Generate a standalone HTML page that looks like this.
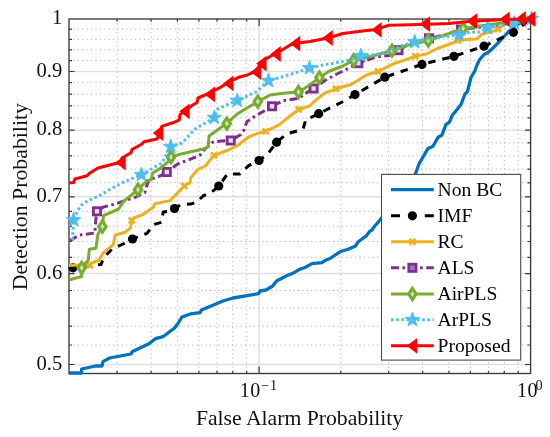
<!DOCTYPE html>
<html><head><meta charset="utf-8"><title>ROC</title><style>html,body{margin:0;padding:0;background:#fff}body{width:550px;height:437px;overflow:hidden}</style></head><body>
<svg width="550" height="437" viewBox="0 0 550 437" style="display:block;font-family:'Liberation Serif',serif">
<rect width="550" height="437" fill="#fff"/>
<g stroke="#b4b4b4" stroke-width="1" stroke-dasharray="1.2 3.2" fill="none"><line x1="117.1" y1="19.0" x2="117.1" y2="373.5"/><line x1="151.1" y1="19.0" x2="151.1" y2="373.5"/><line x1="177.4" y1="19.0" x2="177.4" y2="373.5"/><line x1="198.9" y1="19.0" x2="198.9" y2="373.5"/><line x1="217.0" y1="19.0" x2="217.0" y2="373.5"/><line x1="232.8" y1="19.0" x2="232.8" y2="373.5"/><line x1="246.7" y1="19.0" x2="246.7" y2="373.5"/><line x1="340.8" y1="19.0" x2="340.8" y2="373.5"/><line x1="388.6" y1="19.0" x2="388.6" y2="373.5"/><line x1="422.6" y1="19.0" x2="422.6" y2="373.5"/><line x1="448.9" y1="19.0" x2="448.9" y2="373.5"/><line x1="470.4" y1="19.0" x2="470.4" y2="373.5"/><line x1="488.5" y1="19.0" x2="488.5" y2="373.5"/><line x1="504.3" y1="19.0" x2="504.3" y2="373.5"/><line x1="518.2" y1="19.0" x2="518.2" y2="373.5"/><line x1="69.0" y1="345.0" x2="530.6" y2="345.0"/><line x1="69.0" y1="326.2" x2="530.6" y2="326.2"/><line x1="69.0" y1="308.0" x2="530.6" y2="308.0"/><line x1="69.0" y1="290.5" x2="530.6" y2="290.5"/><line x1="69.0" y1="257.3" x2="530.6" y2="257.3"/><line x1="69.0" y1="241.5" x2="530.6" y2="241.5"/><line x1="69.0" y1="226.1" x2="530.6" y2="226.1"/><line x1="69.0" y1="211.3" x2="530.6" y2="211.3"/><line x1="69.0" y1="182.8" x2="530.6" y2="182.8"/><line x1="69.0" y1="169.1" x2="530.6" y2="169.1"/><line x1="69.0" y1="155.8" x2="530.6" y2="155.8"/><line x1="69.0" y1="142.9" x2="530.6" y2="142.9"/><line x1="69.0" y1="117.9" x2="530.6" y2="117.9"/><line x1="69.0" y1="105.9" x2="530.6" y2="105.9"/><line x1="69.0" y1="94.2" x2="530.6" y2="94.2"/><line x1="69.0" y1="82.7" x2="530.6" y2="82.7"/><line x1="69.0" y1="60.6" x2="530.6" y2="60.6"/><line x1="69.0" y1="49.8" x2="530.6" y2="49.8"/><line x1="69.0" y1="39.3" x2="530.6" y2="39.3"/><line x1="69.0" y1="29.1" x2="530.6" y2="29.1"/></g>
<g stroke="#e0e0e0" stroke-width="1.5" fill="none"><line x1="259.1" y1="19.0" x2="259.1" y2="373.5"/><line x1="69.0" y1="364.5" x2="530.6" y2="364.5"/><line x1="69.0" y1="273.6" x2="530.6" y2="273.6"/><line x1="69.0" y1="196.8" x2="530.6" y2="196.8"/><line x1="69.0" y1="130.2" x2="530.6" y2="130.2"/><line x1="69.0" y1="71.5" x2="530.6" y2="71.5"/></g>
<g stroke="#3a3a3a" stroke-width="1.2" fill="none"><path d="M117.1 373.5v-2.8M117.1 19.0v2.8"/><path d="M151.1 373.5v-2.8M151.1 19.0v2.8"/><path d="M177.4 373.5v-2.8M177.4 19.0v2.8"/><path d="M198.9 373.5v-2.8M198.9 19.0v2.8"/><path d="M217.0 373.5v-2.8M217.0 19.0v2.8"/><path d="M232.8 373.5v-2.8M232.8 19.0v2.8"/><path d="M246.7 373.5v-2.8M246.7 19.0v2.8"/><path d="M340.8 373.5v-2.8M340.8 19.0v2.8"/><path d="M388.6 373.5v-2.8M388.6 19.0v2.8"/><path d="M422.6 373.5v-2.8M422.6 19.0v2.8"/><path d="M448.9 373.5v-2.8M448.9 19.0v2.8"/><path d="M470.4 373.5v-2.8M470.4 19.0v2.8"/><path d="M488.5 373.5v-2.8M488.5 19.0v2.8"/><path d="M504.3 373.5v-2.8M504.3 19.0v2.8"/><path d="M518.2 373.5v-2.8M518.2 19.0v2.8"/><path d="M259.1 373.5v-7M259.1 19.0v7"/><path d="M69.0 345.0h3M530.6 345.0h-3"/><path d="M69.0 326.2h3M530.6 326.2h-3"/><path d="M69.0 308.0h3M530.6 308.0h-3"/><path d="M69.0 290.5h3M530.6 290.5h-3"/><path d="M69.0 257.3h3M530.6 257.3h-3"/><path d="M69.0 241.5h3M530.6 241.5h-3"/><path d="M69.0 226.1h3M530.6 226.1h-3"/><path d="M69.0 211.3h3M530.6 211.3h-3"/><path d="M69.0 182.8h3M530.6 182.8h-3"/><path d="M69.0 169.1h3M530.6 169.1h-3"/><path d="M69.0 155.8h3M530.6 155.8h-3"/><path d="M69.0 142.9h3M530.6 142.9h-3"/><path d="M69.0 117.9h3M530.6 117.9h-3"/><path d="M69.0 105.9h3M530.6 105.9h-3"/><path d="M69.0 94.2h3M530.6 94.2h-3"/><path d="M69.0 82.7h3M530.6 82.7h-3"/><path d="M69.0 60.6h3M530.6 60.6h-3"/><path d="M69.0 49.8h3M530.6 49.8h-3"/><path d="M69.0 39.3h3M530.6 39.3h-3"/><path d="M69.0 29.1h3M530.6 29.1h-3"/><path d="M69.0 364.5h5.5M530.6 364.5h-5.5"/><path d="M69.0 273.6h5.5M530.6 273.6h-5.5"/><path d="M69.0 196.8h5.5M530.6 196.8h-5.5"/><path d="M69.0 130.2h5.5M530.6 130.2h-5.5"/><path d="M69.0 71.5h5.5M530.6 71.5h-5.5"/></g>
<rect x="69.0" y="19.0" width="461.6" height="354.5" fill="none" stroke="#3a3a3a" stroke-width="1.35"/>
<polyline points="69.0,373.0 81.6,373.0 81.6,369.0 95.6,366.0 102.0,366.0 103.0,361.6 109.6,358.0 131.0,354.0 132.5,351.4 149.0,343.8 155.4,338.7 163.0,336.7 174.5,328.0 178.0,323.4 182.0,317.0 191.0,313.8 200.0,312.7 201.5,310.0 223.0,301.0 233.0,298.0 258.7,293.6 260.0,291.0 266.0,290.0 272.7,286.0 276.5,281.0 286.7,275.8 294.0,272.7 299.4,269.4 304.5,267.7 312.0,263.6 322.0,262.6 325.0,260.5 330.0,258.5 340.0,251.8 348.0,249.2 355.6,246.0 358.0,242.0 362.0,239.0 366.0,236.2 369.6,231.4 372.0,230.0 374.7,226.0 377.0,223.5 381.0,218.7 386.0,213.0 388.0,208.0 394.0,203.0 397.0,196.0 404.0,190.0 407.0,183.0 411.0,180.0 415.3,174.3 419.0,164.0 428.0,148.4 433.0,146.3 438.0,137.4 442.0,135.0 445.8,124.7 449.6,122.0 452.0,115.8 461.0,104.4 465.0,94.0 467.4,91.6 471.0,77.5 474.8,71.0 477.0,65.0 479.4,60.0 484.0,54.5 488.0,52.5 493.0,48.0 498.6,42.5 507.8,32.5 513.3,27.0 522.4,21.5 530.6,18.5" fill="none" stroke="#0072BD" stroke-width="3.3" stroke-linejoin="round"/>
<polyline points="69.0,267.0 88.0,265.6 101.0,264.6 103.5,258.0 112.0,249.0 123.0,244.0 132.5,239.0 147.0,233.4 153.6,224.6 161.5,222.3 163.2,212.0 169.0,211.2 174.5,208.6 181.0,204.8 192.0,203.7 197.5,201.5 203.0,196.0 210.7,192.7 219.0,186.0 225.0,177.4 227.2,174.2 240.0,174.0 248.7,165.6 259.0,160.5 267.8,154.0 276.5,142.2 287.0,133.8 303.0,129.2 306.0,119.0 312.0,117.0 318.7,113.7 325.0,110.5 345.0,100.6 355.0,94.6 384.8,77.2 422.0,64.4 454.0,56.3 484.0,46.2 513.4,32.3 530.6,19.0" fill="none" stroke="#000" stroke-width="3" stroke-linejoin="round" stroke-dasharray="7.5 7"/>
<circle cx="73.0" cy="267.8" r="4.6" fill="#000"/>
<circle cx="132.5" cy="239.0" r="4.6" fill="#000"/>
<circle cx="174.5" cy="208.6" r="4.6" fill="#000"/>
<circle cx="218.8" cy="186.0" r="4.6" fill="#000"/>
<circle cx="259.0" cy="160.5" r="4.6" fill="#000"/>
<circle cx="276.6" cy="142.2" r="4.6" fill="#000"/>
<circle cx="318.7" cy="113.7" r="4.6" fill="#000"/>
<circle cx="355.0" cy="94.6" r="4.6" fill="#000"/>
<circle cx="384.8" cy="77.2" r="4.6" fill="#000"/>
<circle cx="422.0" cy="64.4" r="4.6" fill="#000"/>
<circle cx="454.0" cy="56.3" r="4.6" fill="#000"/>
<circle cx="484.0" cy="46.2" r="4.6" fill="#000"/>
<circle cx="513.4" cy="32.3" r="4.6" fill="#000"/>
<polyline points="69.0,265.6 88.3,264.5 99.0,260.0 103.5,252.6 113.0,245.0 115.4,235.0 125.0,232.3 130.5,228.0 131.6,220.2 133.8,218.0 142.6,214.7 153.6,207.0 154.7,203.7 170.0,200.6 178.8,191.6 184.3,186.0 189.8,182.9 191.0,177.4 197.5,169.7 205.4,166.0 208.5,162.0 214.0,155.4 228.3,150.0 237.0,146.0 248.2,137.2 257.0,133.6 265.8,131.4 279.0,124.8 290.0,116.0 298.7,109.5 309.7,106.0 316.3,99.6 325.0,93.0 336.0,88.8 351.0,84.5 358.0,80.3 367.0,74.8 378.0,71.5 393.4,63.8 406.5,59.5 415.3,56.2 426.3,54.0 437.3,48.5 452.7,43.0 458.0,40.4 463.8,39.8 476.6,38.9 482.0,34.3 495.0,30.6 504.0,25.0 515.0,22.0 530.6,19.0" fill="none" stroke="#EDB120" stroke-width="3.0" stroke-linejoin="round"/>
<path d="M87.0 262.2L93.0 268.2M87.0 268.2L93.0 262.2" stroke="#EDB120" stroke-width="2.7" fill="none"/>
<path d="M128.8 217.5L134.8 223.5M128.8 223.5L134.8 217.5" stroke="#EDB120" stroke-width="2.7" fill="none"/>
<path d="M181.3 183.0L187.3 189.0M181.3 189.0L187.3 183.0" stroke="#EDB120" stroke-width="2.7" fill="none"/>
<path d="M211.0 152.4L217.0 158.4M211.0 158.4L217.0 152.4" stroke="#EDB120" stroke-width="2.7" fill="none"/>
<path d="M262.8 128.4L268.8 134.4M262.8 134.4L268.8 128.4" stroke="#EDB120" stroke-width="2.7" fill="none"/>
<path d="M295.7 106.5L301.7 112.5M295.7 112.5L301.7 106.5" stroke="#EDB120" stroke-width="2.7" fill="none"/>
<path d="M333.0 85.8L339.0 91.8M333.0 91.8L339.0 85.8" stroke="#EDB120" stroke-width="2.7" fill="none"/>
<path d="M375.0 68.5L381.0 74.5M375.0 74.5L381.0 68.5" stroke="#EDB120" stroke-width="2.7" fill="none"/>
<path d="M412.3 53.2L418.3 59.2M412.3 59.2L418.3 53.2" stroke="#EDB120" stroke-width="2.7" fill="none"/>
<path d="M455.0 37.4L461.0 43.4M455.0 43.4L461.0 37.4" stroke="#EDB120" stroke-width="2.7" fill="none"/>
<path d="M495.0 26.0L501.0 32.0M495.0 32.0L501.0 26.0" stroke="#EDB120" stroke-width="2.7" fill="none"/>
<polyline points="69.8,240.6 79.6,235.0 94.8,233.0 95.9,219.0 97.0,211.3 103.5,207.0 116.5,203.7 125.0,200.4 133.8,198.0 144.8,192.7 147.0,185.0 149.0,179.8 160.0,176.0 166.8,172.0 177.7,164.0 188.7,159.8 199.7,155.4 204.0,150.0 213.0,142.0 221.7,141.0 230.7,140.5 241.0,134.5 243.8,130.3 247.0,121.5 257.0,115.0 272.0,106.3 283.4,100.7 298.7,98.3 307.5,92.0 313.6,88.5 325.0,80.5 336.0,74.5 351.0,67.0 358.3,63.2 376.0,57.0 389.0,55.4 398.5,50.2 409.0,44.0 429.0,38.3 445.0,35.0 461.0,29.5 490.0,26.0 530.6,19.0" fill="none" stroke="#7E2F8E" stroke-width="3.0" stroke-linejoin="round" stroke-dasharray="8 3.5 2.6 3.5"/>
<rect x="93.4" y="207.7" width="7.2" height="7.2" fill="#e9dcec" stroke="#7E2F8E" stroke-width="2.8"/>
<rect x="163.2" y="168.4" width="7.2" height="7.2" fill="#e9dcec" stroke="#7E2F8E" stroke-width="2.8"/>
<rect x="227.1" y="136.9" width="7.2" height="7.2" fill="#e9dcec" stroke="#7E2F8E" stroke-width="2.8"/>
<rect x="268.4" y="102.7" width="7.2" height="7.2" fill="#e9dcec" stroke="#7E2F8E" stroke-width="2.8"/>
<rect x="310.0" y="84.9" width="7.2" height="7.2" fill="#e9dcec" stroke="#7E2F8E" stroke-width="2.8"/>
<rect x="354.7" y="59.6" width="7.2" height="7.2" fill="#e9dcec" stroke="#7E2F8E" stroke-width="2.8"/>
<rect x="394.9" y="46.6" width="7.2" height="7.2" fill="#e9dcec" stroke="#7E2F8E" stroke-width="2.8"/>
<rect x="425.4" y="34.7" width="7.2" height="7.2" fill="#e9dcec" stroke="#7E2F8E" stroke-width="2.8"/>
<rect x="457.4" y="25.9" width="7.2" height="7.2" fill="#e9dcec" stroke="#7E2F8E" stroke-width="2.8"/>
<polyline points="69.8,279.8 77.4,277.6 81.7,276.5 81.7,267.8 88.3,260.0 89.3,249.3 95.9,248.3 98.0,234.0 102.4,226.5 103.5,215.6 118.7,209.0 123.6,201.4 138.0,189.7 147.0,180.7 151.4,179.6 152.5,173.0 160.0,168.6 169.0,161.0 171.0,157.0 180.0,154.3 204.0,148.8 208.3,146.6 209.0,136.0 226.5,123.5 236.5,114.6 245.3,109.0 257.8,101.6 270.0,95.0 285.5,93.0 298.5,92.0 307.5,86.4 319.4,77.6 329.5,71.0 343.0,66.0 353.6,60.3 368.7,57.0 392.0,50.7 407.0,45.6 428.3,40.5 440.0,36.7 463.2,28.4 490.0,24.6 500.0,23.3 530.6,19.0" fill="none" stroke="#77AC30" stroke-width="3.0" stroke-linejoin="round"/>
<path d="M81.7 261.2L86.1 267.8L81.7 274.4L77.3 267.8Z" fill="#77AC30" stroke="#77AC30" stroke-width="2"/><path d="M81.7 264.8L83.6 267.8L81.7 270.8L79.8 267.8Z" fill="#cfe3b2"/>
<path d="M102.4 219.9L106.8 226.5L102.4 233.1L98.0 226.5Z" fill="#77AC30" stroke="#77AC30" stroke-width="2"/><path d="M102.4 223.5L104.3 226.5L102.4 229.5L100.5 226.5Z" fill="#cfe3b2"/>
<path d="M138.0 183.1L142.4 189.7L138.0 196.3L133.6 189.7Z" fill="#77AC30" stroke="#77AC30" stroke-width="2"/><path d="M138.0 186.7L139.9 189.7L138.0 192.7L136.1 189.7Z" fill="#cfe3b2"/>
<path d="M171.0 150.4L175.4 157.0L171.0 163.6L166.6 157.0Z" fill="#77AC30" stroke="#77AC30" stroke-width="2"/><path d="M171.0 154.0L172.9 157.0L171.0 160.0L169.1 157.0Z" fill="#cfe3b2"/>
<path d="M226.8 117.0L231.2 123.6L226.8 130.2L222.4 123.6Z" fill="#77AC30" stroke="#77AC30" stroke-width="2"/><path d="M226.8 120.6L228.7 123.6L226.8 126.6L224.9 123.6Z" fill="#cfe3b2"/>
<path d="M257.8 95.0L262.2 101.6L257.8 108.2L253.4 101.6Z" fill="#77AC30" stroke="#77AC30" stroke-width="2"/><path d="M257.8 98.6L259.7 101.6L257.8 104.6L255.9 101.6Z" fill="#cfe3b2"/>
<path d="M298.5 85.4L302.9 92.0L298.5 98.6L294.1 92.0Z" fill="#77AC30" stroke="#77AC30" stroke-width="2"/><path d="M298.5 89.0L300.4 92.0L298.5 95.0L296.6 92.0Z" fill="#cfe3b2"/>
<path d="M319.4 71.0L323.8 77.6L319.4 84.2L315.0 77.6Z" fill="#77AC30" stroke="#77AC30" stroke-width="2"/><path d="M319.4 74.6L321.3 77.6L319.4 80.6L317.5 77.6Z" fill="#cfe3b2"/>
<path d="M353.6 53.7L358.0 60.3L353.6 66.9L349.2 60.3Z" fill="#77AC30" stroke="#77AC30" stroke-width="2"/><path d="M353.6 57.3L355.5 60.3L353.6 63.3L351.7 60.3Z" fill="#cfe3b2"/>
<path d="M392.0 44.1L396.4 50.7L392.0 57.3L387.6 50.7Z" fill="#77AC30" stroke="#77AC30" stroke-width="2"/><path d="M392.0 47.7L393.9 50.7L392.0 53.7L390.1 50.7Z" fill="#cfe3b2"/>
<path d="M428.3 33.9L432.7 40.5L428.3 47.1L423.9 40.5Z" fill="#77AC30" stroke="#77AC30" stroke-width="2"/><path d="M428.3 37.5L430.2 40.5L428.3 43.5L426.4 40.5Z" fill="#cfe3b2"/>
<path d="M463.2 21.8L467.6 28.4L463.2 35.0L458.8 28.4Z" fill="#77AC30" stroke="#77AC30" stroke-width="2"/><path d="M463.2 25.4L465.1 28.4L463.2 31.4L461.3 28.4Z" fill="#cfe3b2"/>
<polyline points="72.5,240.0 73.5,220.0 77.4,211.0 81.7,204.8 88.3,200.4 99.0,196.0 111.0,188.7 126.0,181.0 141.4,174.7 161.8,163.0 170.7,146.7 182.0,143.0 195.0,129.0 214.3,117.7 218.0,108.7 237.2,100.5 256.0,92.0 268.5,80.8 292.0,74.0 309.3,68.0 325.0,64.7 340.7,62.0 351.0,59.6 361.0,55.8 376.0,54.5 391.6,50.7 401.8,45.6 414.7,42.0 427.0,39.0 440.0,36.7 459.2,35.2 467.5,32.5 479.4,32.0 487.6,27.9 500.4,26.0 514.2,23.3 531.6,18.6" fill="none" stroke="#4DBEEE" stroke-width="3" stroke-linejoin="round" stroke-dasharray="2.6 2.6"/>
<polygon points="73.5,212.4 75.3,217.5 80.7,217.7 76.4,221.0 78.0,226.1 73.5,223.1 69.0,226.1 70.6,221.0 66.3,217.7 71.7,217.5" fill="#4DBEEE" stroke="#4DBEEE" stroke-width="1"/>
<polygon points="141.4,167.1 143.2,172.2 148.6,172.4 144.3,175.7 145.9,180.8 141.4,177.8 136.9,180.8 138.5,175.7 134.2,172.4 139.6,172.2" fill="#4DBEEE" stroke="#4DBEEE" stroke-width="1"/>
<polygon points="170.7,139.1 172.5,144.2 177.9,144.4 173.6,147.7 175.2,152.8 170.7,149.8 166.2,152.8 167.8,147.7 163.5,144.4 168.9,144.2" fill="#4DBEEE" stroke="#4DBEEE" stroke-width="1"/>
<polygon points="214.3,110.1 216.1,115.2 221.5,115.4 217.2,118.7 218.8,123.8 214.3,120.8 209.8,123.8 211.4,118.7 207.1,115.4 212.5,115.2" fill="#4DBEEE" stroke="#4DBEEE" stroke-width="1"/>
<polygon points="237.2,92.9 239.0,98.0 244.4,98.2 240.1,101.5 241.7,106.6 237.2,103.6 232.7,106.6 234.3,101.5 230.0,98.2 235.4,98.0" fill="#4DBEEE" stroke="#4DBEEE" stroke-width="1"/>
<polygon points="268.5,73.2 270.3,78.3 275.7,78.5 271.4,81.8 273.0,86.9 268.5,83.9 264.0,86.9 265.6,81.8 261.3,78.5 266.7,78.3" fill="#4DBEEE" stroke="#4DBEEE" stroke-width="1"/>
<polygon points="309.5,60.4 311.3,65.5 316.7,65.7 312.4,69.0 314.0,74.1 309.5,71.1 305.0,74.1 306.6,69.0 302.3,65.7 307.7,65.5" fill="#4DBEEE" stroke="#4DBEEE" stroke-width="1"/>
<polygon points="361.0,48.2 362.8,53.3 368.2,53.5 363.9,56.8 365.5,61.9 361.0,58.9 356.5,61.9 358.1,56.8 353.8,53.5 359.2,53.3" fill="#4DBEEE" stroke="#4DBEEE" stroke-width="1"/>
<polygon points="414.7,34.4 416.5,39.5 421.9,39.7 417.6,43.0 419.2,48.1 414.7,45.1 410.2,48.1 411.8,43.0 407.5,39.7 412.9,39.5" fill="#4DBEEE" stroke="#4DBEEE" stroke-width="1"/>
<polygon points="459.2,27.6 461.0,32.7 466.4,32.9 462.1,36.2 463.7,41.3 459.2,38.3 454.7,41.3 456.3,36.2 452.0,32.9 457.4,32.7" fill="#4DBEEE" stroke="#4DBEEE" stroke-width="1"/>
<polygon points="487.6,20.3 489.4,25.4 494.8,25.6 490.5,28.9 492.1,34.0 487.6,31.0 483.1,34.0 484.7,28.9 480.4,25.6 485.8,25.4" fill="#4DBEEE" stroke="#4DBEEE" stroke-width="1"/>
<polygon points="514.2,15.7 516.0,20.8 521.4,21.0 517.1,24.3 518.7,29.4 514.2,26.4 509.7,29.4 511.3,24.3 507.0,21.0 512.4,20.8" fill="#4DBEEE" stroke="#4DBEEE" stroke-width="1"/>
<polygon points="531.6,11.0 533.4,16.1 538.8,16.3 534.5,19.6 536.1,24.7 531.6,21.7 527.1,24.7 528.7,19.6 524.4,16.3 529.8,16.1" fill="#4DBEEE" stroke="#4DBEEE" stroke-width="1"/>
<polyline points="69.0,183.0 73.8,182.4 74.9,179.0 87.0,175.8 89.2,173.6 98.0,168.0 114.5,163.7 120.5,162.5 122.0,158.0 131.0,152.7 132.0,149.5 142.0,144.0 144.0,141.8 157.0,139.0 159.5,134.0 161.7,126.4 175.0,122.0 179.3,119.8 180.0,114.6 184.9,111.3 191.5,105.8 197.0,102.5 198.0,98.0 208.0,93.7 219.0,88.2 227.7,82.7 238.7,77.3 247.5,75.0 256.3,70.7 259.6,65.2 263.0,60.8 274.0,54.2 280.5,50.9 289.3,45.4 297.0,43.0 310.0,41.5 315.0,40.5 328.0,38.0 343.0,33.5 362.6,30.9 376.0,29.5 389.0,25.2 411.0,24.8 427.0,24.2 448.3,23.4 472.0,21.2 505.0,19.6 521.0,19.0 530.6,19.0" fill="none" stroke="#FF0000" stroke-width="3" stroke-linejoin="round"/>
<path d="M116.6 162.6L125.0 156.2L125.0 169.0Z" fill="#FF0000" stroke="#FF0000" stroke-width="1.5" stroke-linejoin="miter"/>
<path d="M154.0 133.0L162.4 126.6L162.4 139.4Z" fill="#FF0000" stroke="#FF0000" stroke-width="1.5" stroke-linejoin="miter"/>
<path d="M180.5 111.3L188.9 104.9L188.9 117.7Z" fill="#FF0000" stroke="#FF0000" stroke-width="1.5" stroke-linejoin="miter"/>
<path d="M205.8 94.4L214.2 88.0L214.2 100.8Z" fill="#FF0000" stroke="#FF0000" stroke-width="1.5" stroke-linejoin="miter"/>
<path d="M224.4 83.4L232.8 77.0L232.8 89.8Z" fill="#FF0000" stroke="#FF0000" stroke-width="1.5" stroke-linejoin="miter"/>
<path d="M251.9 72.0L260.3 65.6L260.3 78.4Z" fill="#FF0000" stroke="#FF0000" stroke-width="1.5" stroke-linejoin="miter"/>
<path d="M257.4 63.6L265.8 57.2L265.8 70.0Z" fill="#FF0000" stroke="#FF0000" stroke-width="1.5" stroke-linejoin="miter"/>
<path d="M271.6 54.0L280.0 47.6L280.0 60.4Z" fill="#FF0000" stroke="#FF0000" stroke-width="1.5" stroke-linejoin="miter"/>
<path d="M291.1 43.6L299.5 37.2L299.5 50.0Z" fill="#FF0000" stroke="#FF0000" stroke-width="1.5" stroke-linejoin="miter"/>
<path d="M323.6 38.0L332.0 31.6L332.0 44.4Z" fill="#FF0000" stroke="#FF0000" stroke-width="1.5" stroke-linejoin="miter"/>
<path d="M372.5 29.8L380.9 23.4L380.9 36.2Z" fill="#FF0000" stroke="#FF0000" stroke-width="1.5" stroke-linejoin="miter"/>
<path d="M420.9 24.2L429.3 17.8L429.3 30.6Z" fill="#FF0000" stroke="#FF0000" stroke-width="1.5" stroke-linejoin="miter"/>
<path d="M467.9 21.2L476.3 14.8L476.3 27.6Z" fill="#FF0000" stroke="#FF0000" stroke-width="1.5" stroke-linejoin="miter"/>
<path d="M500.6 19.3L509.0 12.9L509.0 25.7Z" fill="#FF0000" stroke="#FF0000" stroke-width="1.5" stroke-linejoin="miter"/>
<path d="M516.6 19.0L525.0 12.6L525.0 25.4Z" fill="#FF0000" stroke="#FF0000" stroke-width="1.5" stroke-linejoin="miter"/>
<path d="M526.1 19.0L534.5 12.6L534.5 25.4Z" fill="#FF0000" stroke="#FF0000" stroke-width="1.5" stroke-linejoin="miter"/>
<rect x="381.5" y="174.4" width="139.20000000000005" height="185.70000000000002" fill="#fff" stroke="#4a4a4a" stroke-width="1.1"/>
<line x1="391" y1="189.6" x2="433.8" y2="189.6" stroke="#0072BD" stroke-width="3.2"/>
<path d="M391 215.8h9M433.8 215.8h-9" stroke="#000" stroke-width="3"/>
<circle cx="412.4" cy="215.8" r="4.6" fill="#000"/>
<line x1="391" y1="241.8" x2="433.8" y2="241.8" stroke="#EDB120" stroke-width="3.0"/>
<path d="M409.4 238.8L415.4 244.8M409.4 244.8L415.4 238.8" stroke="#EDB120" stroke-width="2.7" fill="none"/>
<line x1="391" y1="267.8" x2="433.8" y2="267.8" stroke="#7E2F8E" stroke-width="3.0" stroke-dasharray="8 3.5 2.6 3.5"/>
<rect x="408.8" y="264.2" width="7.2" height="7.2" fill="#a877b3" stroke="#7E2F8E" stroke-width="2.8"/>
<line x1="391" y1="294" x2="433.8" y2="294" stroke="#77AC30" stroke-width="3.0"/>
<path d="M412.4 287.4L416.8 294.0L412.4 300.6L408.0 294.0Z" fill="#77AC30" stroke="#77AC30" stroke-width="2"/><path d="M412.4 291.0L414.3 294.0L412.4 297.0L410.5 294.0Z" fill="#cfe3b2"/>
<line x1="391" y1="319.8" x2="433.8" y2="319.8" stroke="#4DBEEE" stroke-width="3" stroke-dasharray="2.6 2.6"/>
<polygon points="412.4,312.2 414.2,317.3 419.6,317.5 415.3,320.8 416.9,325.9 412.4,322.9 407.9,325.9 409.5,320.8 405.2,317.5 410.6,317.3" fill="#4DBEEE" stroke="#4DBEEE" stroke-width="1"/>
<line x1="391" y1="345.8" x2="433.8" y2="345.8" stroke="#FF0000" stroke-width="3"/>
<path d="M408.0 345.8L416.4 339.4L416.4 352.2Z" fill="#FF0000" stroke="#FF0000" stroke-width="1.5" stroke-linejoin="miter"/>
<text x="437.5" y="196.0" font-size="19.6" fill="#000">Non BC</text>
<text x="437.5" y="222.2" font-size="19.6" fill="#000">IMF</text>
<text x="437.5" y="248.2" font-size="19.6" fill="#000">RC</text>
<text x="437.5" y="274.2" font-size="19.6" fill="#000">ALS</text>
<text x="437.5" y="300.4" font-size="19.6" fill="#000">AirPLS</text>
<text x="437.5" y="326.2" font-size="19.6" fill="#000">ArPLS</text>
<text x="437.5" y="352.2" font-size="19.6" fill="#000">Proposed</text>
<text x="62.2" y="24.1" font-size="20.6" text-anchor="end" fill="#111">1</text>
<text x="62.2" y="76.6" font-size="20.6" text-anchor="end" fill="#111">0.9</text>
<text x="62.2" y="135.3" font-size="20.6" text-anchor="end" fill="#111">0.8</text>
<text x="62.2" y="201.9" font-size="20.6" text-anchor="end" fill="#111">0.7</text>
<text x="62.2" y="278.7" font-size="20.6" text-anchor="end" fill="#111">0.6</text>
<text x="62.2" y="369.6" font-size="20.6" text-anchor="end" fill="#111">0.5</text>
<text x="239.8" y="396.9" font-size="20" fill="#111" letter-spacing="0.4">10</text><text y="390.4" font-size="14.2" fill="#111"><tspan x="260.8">−</tspan><tspan x="270">1</tspan></text>
<text x="517" y="396.9" font-size="20" fill="#111" letter-spacing="0.4">10</text><text x="535.6" y="390.4" font-size="14.2" fill="#111">0</text>
<text x="299.5" y="425.4" font-size="21.7" text-anchor="middle" fill="#111">False Alarm Probability</text>
<text transform="translate(26.8 196.6) rotate(-90)" font-size="21.8" text-anchor="middle" fill="#111">Detection Probability</text>
</svg>
</body></html>
